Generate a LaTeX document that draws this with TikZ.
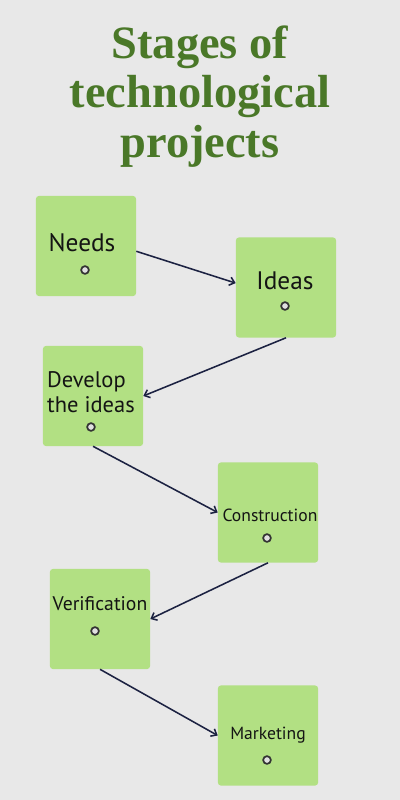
\documentclass[tikz,border=0pt]{standalone}
\usepackage{xcolor}
\usepackage{fontspec}
\usepackage{tikz}
\usetikzlibrary{arrows.meta}
\setmainfont{PT Sans}
\newfontfamily\titlefont{Liberation Serif}
\definecolor{plaster}{HTML}{E8E8E8}
\definecolor{leaf}{HTML}{B2E083}
\definecolor{moss}{HTML}{4A7828}
\definecolor{ink}{HTML}{1C2242}
\tikzset{
  stagebox/.style={fill=leaf, rounded corners=2pt, minimum width=2.5cm, minimum height=2.5cm, inner sep=0pt},
  stagetext/.style={inner sep=0pt, text=black!92},
  dot/.style={circle, draw=black!80, fill=white!88!black, line width=1.2pt, minimum size=5.5pt, inner sep=0pt},
  link/.style={draw=ink, line width=1.1pt, -{Straight Barb[length=3.5pt,width=6pt]}}
}

\begin{document}
\begin{tikzpicture}[x=0.025cm, y=-0.025cm]
      \useasboundingbox (0,0) rectangle (400,800);
      \fill[plaster] (0,0) rectangle (400,800);

      \node[text=moss, font=\titlefont\bfseries\fontsize{33}{35}\selectfont, align=center] (title) at (200, 96.5)
        {Stages of\\technological\\projects};

      \node[stagebox] (needs) at (86, 246){};
      \node[stagebox] (ideas) at (286, 287.5){};
      \node[stagebox] (develop) at (93, 396){};
      \node[stagebox] (construction) at (268, 512.5){};
      \node[stagebox] (verification) at (100, 619){};
      \node[stagebox] (marketing) at (268, 735.5){};

      \node[stagetext, font=\fontsize{18}{21}\selectfont] (needs-t) at (82, 243){Needs};
      \node[stagetext, font=\fontsize{18}{21}\selectfont] (ideas-t) at (285, 281){Ideas};
      \node[stagetext, font=\fontsize{16}{17.5}\selectfont, align=left] (develop-t) at (91, 392){Develop\\the ideas};
      \node[stagetext, font=\fontsize{12.5}{14}\selectfont] (construction-t) at (270, 515){Construction};
      \node[stagetext, font=\fontsize{14}{16}\selectfont] (verification-t) at (100, 604){Verification};
      \node[stagetext, font=\fontsize{12.5}{14}\selectfont] (marketing-t) at (268, 735){Marketing};

      \node[dot] (needs-d) at (85, 270){};
      \node[dot] (ideas-d) at (285, 306){};
      \node[dot] (develop-d) at (91, 427){};
      \node[dot] (construction-d) at (267, 538){};
      \node[dot] (verification-d) at (95, 631){};
      \node[dot] (marketing-d) at (267, 760){};

      \draw[link] (needs.-6) -- (ideas.175);
      \draw[link] (ideas.south) -- (develop.east);
      \draw[link] (develop.south) -- (construction.west);
      \draw[link] (construction.south) -- (verification.east);
      \draw[link] (verification.south) -- (marketing.west);
    \end{tikzpicture}
\end{document}
